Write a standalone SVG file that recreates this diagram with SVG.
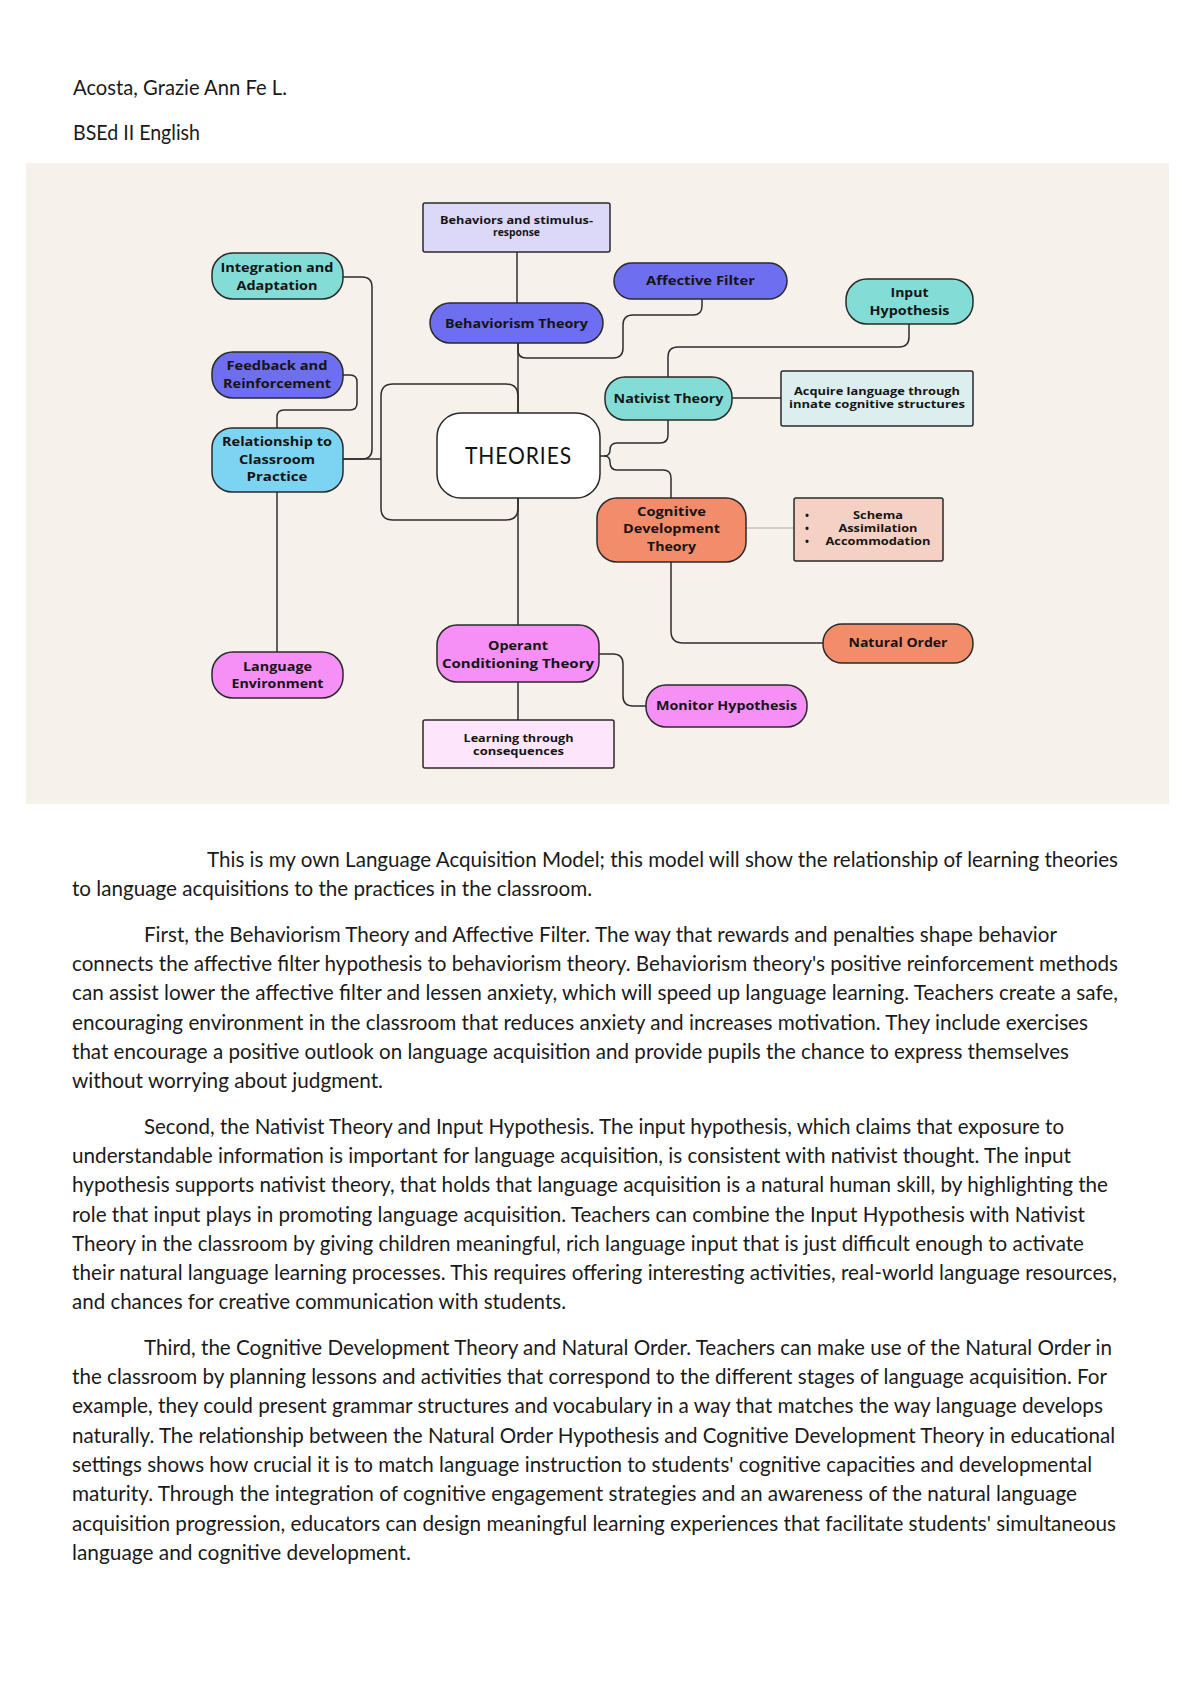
<svg xmlns="http://www.w3.org/2000/svg" width="1200" height="1696" viewBox="0 0 1200 1696">
<style>
.page{fill:#ffffff}
.panel{fill:#f6f2eb}
.node{stroke:#2a2a2a;stroke-width:1.5}
.lbl{font-family:"Open Sans","Liberation Sans",sans-serif;font-weight:700;font-size:13px;fill:#151515;text-anchor:middle}
.sm{font-size:10.5px}
.conn{fill:none;stroke:#2e2e2e;stroke-width:1.5}
.light{stroke:#c9c1b8}
.body{font-family:"Lato","Liberation Sans",sans-serif;font-size:21.5px;fill:#1a1a1a}
.title{font-family:"Lato","Liberation Sans",sans-serif;font-size:23px;fill:#111;text-anchor:middle;letter-spacing:1px}
</style>
<rect class="page" x="0" y="0" width="1200" height="1696"/>
<g id="header">
<text class="body" x="73" y="95" textLength="214" lengthAdjust="spacingAndGlyphs">Acosta, Grazie Ann Fe L.</text>
<text class="body" x="73" y="140" textLength="127" lengthAdjust="spacingAndGlyphs">BSEd II English</text>
</g>
<rect class="panel" x="26" y="163" width="1143" height="641"/>
<g id="connectors">
<path class="conn" d="M517,252 V303"/>
<path class="conn" d="M518,343 V413"/>
<path class="conn" d="M518,343 V350 Q518,358 526,358 H613 Q623,358 623,348 V325 Q623,315 633,315 H693 Q702,315 702,306 V299"/>
<path class="conn" d="M518,413 V396 Q518,384 506,384 H393 Q381,384 381,396 V508 Q381,520 393,520 H506 Q518,520 518,508 V498"/>
<path class="conn" d="M343,459 H381"/>
<path class="conn" d="M343,277 H362 Q372,277 372,287 V449 Q372,459 362,459 H343"/>
<path class="conn" d="M343,375 H350 Q357,375 357,382 V403 Q357,410 350,410 H284 Q277,410 277,417 V428"/>
<path class="conn" d="M277,492 V652"/>
<path class="conn" d="M518,498 V625"/>
<path class="conn" d="M518,682 V720"/>
<path class="conn" d="M599,654 H613 Q623,654 623,664 V696 Q623,706 633,706 H646"/>
<path class="conn" d="M600,456 H604 Q610,456 610,450 Q610,443 617,443 H660 Q668,443 668,435 V420"/>
<path class="conn" d="M604,456 Q610,456 610,462 Q610,470 617,470 H663 Q671,470 671,478 V498"/>
<path class="conn" d="M668,377 V357 Q668,347 678,347 H899 Q909,347 909,337 V324"/>
<path class="conn" d="M732,398 H781"/>
<path class="conn light" d="M746,528 H794"/>
<path class="conn" d="M671,562 V631 Q671,643 683,643 H823"/>
</g>
<g id="behaviors-stimulus">
<rect class="node" x="423" y="203" width="187" height="49" rx="2" fill="#dcd9f8"/>
<text class="lbl sm" x="516.5" y="224" textLength="153" lengthAdjust="spacingAndGlyphs">Behaviors and stimulus-</text>
<text class="lbl sm" x="516.5" y="236" textLength="47" lengthAdjust="spacingAndGlyphs">response</text>
</g>
<g id="integration-adaptation">
<rect class="node" x="212" y="253" width="131" height="46" rx="21" fill="#84dcd6"/>
<text class="lbl" x="277" y="271.5" textLength="113" lengthAdjust="spacingAndGlyphs">Integration and</text>
<text class="lbl" x="277" y="289.5" textLength="81" lengthAdjust="spacingAndGlyphs">Adaptation</text>
</g>
<g id="behaviorism-theory">
<rect class="node" x="430" y="303" width="173" height="40" rx="20" fill="#6e6ef0"/>
<text class="lbl" x="516.5" y="327.5" textLength="143" lengthAdjust="spacingAndGlyphs">Behaviorism Theory</text>
</g>
<g id="feedback-reinforcement">
<rect class="node" x="212" y="352" width="131" height="46" rx="21" fill="#6e6ef0"/>
<text class="lbl" x="277" y="370" textLength="101" lengthAdjust="spacingAndGlyphs">Feedback and</text>
<text class="lbl" x="277" y="387.5" textLength="108" lengthAdjust="spacingAndGlyphs">Reinforcement</text>
</g>
<g id="relationship-classroom">
<rect class="node" x="212" y="428" width="131" height="64" rx="20" fill="#7dd4f2"/>
<text class="lbl" x="277" y="446" textLength="110" lengthAdjust="spacingAndGlyphs">Relationship to</text>
<text class="lbl" x="277" y="463.5" textLength="76" lengthAdjust="spacingAndGlyphs">Classroom</text>
<text class="lbl" x="277" y="481" textLength="61" lengthAdjust="spacingAndGlyphs">Practice</text>
</g>
<g id="theories">
<rect class="node" x="437" y="413" width="163" height="85" rx="24" fill="#ffffff"/>
<text class="title" x="518.5" y="464" textLength="107" lengthAdjust="spacingAndGlyphs">THEORIES</text>
</g>
<g id="affective-filter">
<rect class="node" x="614" y="263" width="173" height="36" rx="18" fill="#6e6ef0"/>
<text class="lbl" x="700.5" y="285" textLength="109" lengthAdjust="spacingAndGlyphs">Affective Filter</text>
</g>
<g id="input-hypothesis">
<rect class="node" x="846" y="279" width="127" height="45" rx="21" fill="#84dcd6"/>
<text class="lbl" x="909.5" y="297" textLength="38" lengthAdjust="spacingAndGlyphs">Input</text>
<text class="lbl" x="909.5" y="314.5" textLength="80" lengthAdjust="spacingAndGlyphs">Hypothesis</text>
</g>
<g id="nativist-theory">
<rect class="node" x="605" y="377" width="127" height="43" rx="20" fill="#84dcd6"/>
<text class="lbl" x="668.5" y="402.5" textLength="110" lengthAdjust="spacingAndGlyphs">Nativist Theory</text>
</g>
<g id="acquire-language">
<rect class="node" x="781" y="371" width="192" height="55" rx="2" fill="#dcefee"/>
<text class="lbl sm" x="877" y="395" textLength="166" lengthAdjust="spacingAndGlyphs">Acquire language through</text>
<text class="lbl sm" x="877" y="408" textLength="176" lengthAdjust="spacingAndGlyphs">innate cognitive structures</text>
</g>
<g id="cognitive-development">
<rect class="node" x="597" y="498" width="149" height="64" rx="20" fill="#f38c6a"/>
<text class="lbl" x="671.5" y="515.5" textLength="69" lengthAdjust="spacingAndGlyphs">Cognitive</text>
<text class="lbl" x="671.5" y="533" textLength="97" lengthAdjust="spacingAndGlyphs">Development</text>
<text class="lbl" x="671.5" y="551" textLength="49" lengthAdjust="spacingAndGlyphs">Theory</text>
</g>
<g id="schema-list">
<rect class="node" x="794" y="498" width="149" height="63" rx="2" fill="#f4d1c4"/>
<text class="lbl sm" x="807" y="518.5">•</text>
<text class="lbl sm" x="807" y="532">•</text>
<text class="lbl sm" x="807" y="545">•</text>
<text class="lbl sm" x="878" y="518.5" textLength="50" lengthAdjust="spacingAndGlyphs">Schema</text>
<text class="lbl sm" x="878" y="532" textLength="79" lengthAdjust="spacingAndGlyphs">Assimilation</text>
<text class="lbl sm" x="878" y="545" textLength="105" lengthAdjust="spacingAndGlyphs">Accommodation</text>
</g>
<g id="natural-order">
<rect class="node" x="823" y="624" width="150" height="39" rx="19" fill="#f38c6a"/>
<text class="lbl" x="898" y="647" textLength="99" lengthAdjust="spacingAndGlyphs">Natural Order</text>
</g>
<g id="operant-conditioning">
<rect class="node" x="437" y="625" width="162" height="57" rx="20" fill="#f690f6"/>
<text class="lbl" x="518" y="649.5" textLength="60" lengthAdjust="spacingAndGlyphs">Operant</text>
<text class="lbl" x="518" y="667.5" textLength="152" lengthAdjust="spacingAndGlyphs">Conditioning Theory</text>
</g>
<g id="monitor-hypothesis">
<rect class="node" x="646" y="685" width="161" height="42" rx="20" fill="#f690f6"/>
<text class="lbl" x="726.5" y="710" textLength="141" lengthAdjust="spacingAndGlyphs">Monitor Hypothesis</text>
</g>
<g id="learning-consequences">
<rect class="node" x="423" y="720" width="191" height="48" rx="2" fill="#fde6fc"/>
<text class="lbl sm" x="518.5" y="741.5" textLength="110" lengthAdjust="spacingAndGlyphs">Learning through</text>
<text class="lbl sm" x="518.5" y="754.5" textLength="91" lengthAdjust="spacingAndGlyphs">consequences</text>
</g>
<g id="language-environment">
<rect class="node" x="212" y="652" width="131" height="46" rx="21" fill="#f690f6"/>
<text class="lbl" x="277.5" y="670.5" textLength="69" lengthAdjust="spacingAndGlyphs">Language</text>
<text class="lbl" x="277.5" y="688" textLength="92" lengthAdjust="spacingAndGlyphs">Environment</text>
</g>
<g id="body-text" transform="translate(0,2)">
<text class="body" x="207" y="865" textLength="911" lengthAdjust="spacingAndGlyphs">This is my own Language Acquisition Model; this model will show the relationship of learning theories</text>
<text class="body" x="72" y="894.3" textLength="520" lengthAdjust="spacingAndGlyphs">to language acquisitions to the practices in the classroom.</text>
<text class="body" x="144" y="939.7" textLength="913" lengthAdjust="spacingAndGlyphs">First, the Behaviorism Theory and Affective Filter. The way that rewards and penalties shape behavior</text>
<text class="body" x="72" y="969" textLength="1046" lengthAdjust="spacingAndGlyphs">connects the affective filter hypothesis to behaviorism theory. Behaviorism theory's positive reinforcement methods</text>
<text class="body" x="72" y="998.3" textLength="1046" lengthAdjust="spacingAndGlyphs">can assist lower the affective filter and lessen anxiety, which will speed up language learning. Teachers create a safe,</text>
<text class="body" x="72" y="1027.6" textLength="1016" lengthAdjust="spacingAndGlyphs">encouraging environment in the classroom that reduces anxiety and increases motivation. They include exercises</text>
<text class="body" x="72" y="1056.9" textLength="997" lengthAdjust="spacingAndGlyphs">that encourage a positive outlook on language acquisition and provide pupils the chance to express themselves</text>
<text class="body" x="72" y="1086.2" textLength="311" lengthAdjust="spacingAndGlyphs">without worrying about judgment.</text>
<text class="body" x="144" y="1131.6" textLength="920" lengthAdjust="spacingAndGlyphs">Second, the Nativist Theory and Input Hypothesis. The input hypothesis, which claims that exposure to</text>
<text class="body" x="72" y="1160.9" textLength="999" lengthAdjust="spacingAndGlyphs">understandable information is important for language acquisition, is consistent with nativist thought. The input</text>
<text class="body" x="72" y="1190.2" textLength="1036" lengthAdjust="spacingAndGlyphs">hypothesis supports nativist theory, that holds that language acquisition is a natural human skill, by highlighting the</text>
<text class="body" x="72" y="1219.5" textLength="1013" lengthAdjust="spacingAndGlyphs">role that input plays in promoting language acquisition. Teachers can combine the Input Hypothesis with Nativist</text>
<text class="body" x="72" y="1248.8" textLength="1012" lengthAdjust="spacingAndGlyphs">Theory in the classroom by giving children meaningful, rich language input that is just difficult enough to activate</text>
<text class="body" x="72" y="1278.1" textLength="1045" lengthAdjust="spacingAndGlyphs">their natural language learning processes. This requires offering interesting activities, real-world language resources,</text>
<text class="body" x="72" y="1307.4" textLength="494" lengthAdjust="spacingAndGlyphs">and chances for creative communication with students.</text>
<text class="body" x="144" y="1352.8" textLength="968" lengthAdjust="spacingAndGlyphs">Third, the Cognitive Development Theory and Natural Order. Teachers can make use of the Natural Order in</text>
<text class="body" x="72" y="1382.1" textLength="1035" lengthAdjust="spacingAndGlyphs">the classroom by planning lessons and activities that correspond to the different stages of language acquisition. For</text>
<text class="body" x="72" y="1411.4" textLength="1031" lengthAdjust="spacingAndGlyphs">example, they could present grammar structures and vocabulary in a way that matches the way language develops</text>
<text class="body" x="72" y="1440.7" textLength="1043" lengthAdjust="spacingAndGlyphs">naturally. The relationship between the Natural Order Hypothesis and Cognitive Development Theory in educational</text>
<text class="body" x="72" y="1470" textLength="1020" lengthAdjust="spacingAndGlyphs">settings shows how crucial it is to match language instruction to students' cognitive capacities and developmental</text>
<text class="body" x="72" y="1499.3" textLength="1005" lengthAdjust="spacingAndGlyphs">maturity. Through the integration of cognitive engagement strategies and an awareness of the natural language</text>
<text class="body" x="72" y="1528.6" textLength="1044" lengthAdjust="spacingAndGlyphs">acquisition progression, educators can design meaningful learning experiences that facilitate students' simultaneous</text>
<text class="body" x="72" y="1557.9" textLength="339" lengthAdjust="spacingAndGlyphs">language and cognitive development.</text>
</g>
</svg>
